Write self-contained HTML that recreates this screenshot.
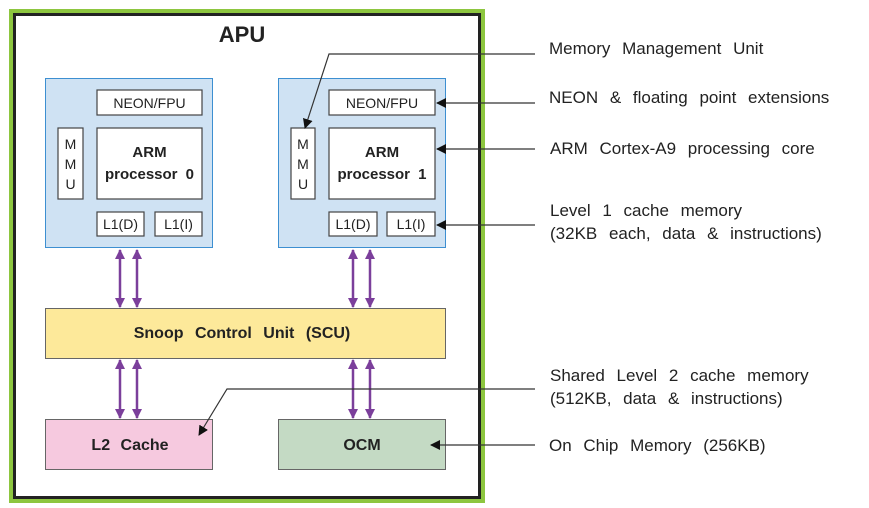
<!DOCTYPE html>
<html><head><style>
html,body{margin:0;padding:0;background:#fff;}
svg{display:block;font-family:"Liberation Sans",Arial,sans-serif;}
.t{font-size:17px;fill:#222;word-spacing:7px;}
.b{font-size:14px;fill:#222;}
</style></head><body>
<svg width="869" height="508" viewBox="0 0 869 508" xmlns="http://www.w3.org/2000/svg">
<defs>
<marker id="ah" markerWidth="10" markerHeight="10" refX="9" refY="5" orient="auto" markerUnits="userSpaceOnUse"><path d="M0,0 L10,5 L0,10 z" fill="#111"/></marker>
<marker id="pa" markerWidth="10" markerHeight="10" refX="9" refY="5" orient="auto-start-reverse" markerUnits="userSpaceOnUse"><path d="M0,0 L10,5 L0,10 z" fill="#7b3f9b"/></marker>
</defs>
<rect x="11" y="11" width="472" height="490" fill="#fff" stroke="#8dc63f" stroke-width="4"/>
<rect x="14.5" y="14.5" width="465" height="483" fill="none" stroke="#222" stroke-width="3"/>
<text x="242" y="42" font-size="22" font-weight="bold" text-anchor="middle" fill="#222">APU</text>

<g stroke="#3d8fd1" stroke-width="1" fill="#cfe2f3">
<rect x="45.5" y="78.5" width="167" height="169"/>
<rect x="278.5" y="78.5" width="167" height="169"/>
</g>
<g stroke="#444" stroke-width="1.2" fill="#fff">
<rect x="97" y="90" width="105" height="25"/><rect x="58" y="128" width="25" height="71"/><rect x="97" y="128" width="105" height="71"/>
<rect x="97" y="212" width="47" height="24"/><rect x="155" y="212" width="47" height="24"/>
<rect x="329" y="90" width="106" height="25"/><rect x="291" y="128" width="24" height="71"/><rect x="329" y="128" width="106" height="71"/>
<rect x="329" y="212" width="48" height="24"/><rect x="387" y="212" width="48" height="24"/>
</g>
<g class="b" text-anchor="middle">
<text x="149.5" y="108">NEON/FPU</text><text x="382" y="108">NEON/FPU</text>
<text x="70.5" y="149">M</text><text x="70.5" y="169">M</text><text x="70.5" y="189">U</text>
<text x="303" y="149">M</text><text x="303" y="169">M</text><text x="303" y="189">U</text>
<text x="149.5" y="157" font-weight="bold" font-size="15">ARM</text><text x="149.5" y="179" font-weight="bold" font-size="15" word-spacing="4">processor 0</text>
<text x="382" y="157" font-weight="bold" font-size="15">ARM</text><text x="382" y="179" font-weight="bold" font-size="15" word-spacing="4">processor 1</text>
<text x="120.5" y="229">L1(D)</text><text x="178.5" y="229">L1(I)</text>
<text x="353" y="229">L1(D)</text><text x="411" y="229">L1(I)</text>
</g>

<g stroke="#7b3f9b" stroke-width="2.5" marker-start="url(#pa)" marker-end="url(#pa)">
<line x1="120" y1="250" x2="120" y2="307"/><line x1="137" y1="250" x2="137" y2="307"/>
<line x1="353" y1="250" x2="353" y2="307"/><line x1="370" y1="250" x2="370" y2="307"/>
<line x1="120" y1="360" x2="120" y2="418"/><line x1="137" y1="360" x2="137" y2="418"/>
<line x1="353" y1="360" x2="353" y2="418"/><line x1="370" y1="360" x2="370" y2="418"/>
</g>

<rect x="45.5" y="308.5" width="400" height="50" fill="#fde99a" stroke="#666"/>
<text x="242" y="338" font-size="16" font-weight="bold" text-anchor="middle" fill="#222" word-spacing="7">Snoop Control Unit (SCU)</text>
<rect x="45.5" y="419.5" width="167" height="50" fill="#f6c9df" stroke="#666"/>
<text x="130" y="450" font-size="16" font-weight="bold" text-anchor="middle" fill="#222" word-spacing="6">L2 Cache</text>
<rect x="278.5" y="419.5" width="167" height="50" fill="#c4dac4" stroke="#666"/>
<text x="362" y="450" font-size="16" font-weight="bold" text-anchor="middle" fill="#222">OCM</text>

<g stroke="#333" stroke-width="1.2" fill="none" marker-end="url(#ah)">
<polyline points="535,54 329,54 305,128"/>
<line x1="535" y1="103" x2="437" y2="103"/>
<line x1="535" y1="149" x2="437" y2="149"/>
<line x1="535" y1="225" x2="437" y2="225"/>
<polyline points="535,389 227,389 199,435"/>
<line x1="535" y1="445" x2="431" y2="445"/>
</g>

<g class="t">
<text x="549" y="54">Memory Management Unit</text>
<text x="549" y="103">NEON &amp; floating point extensions</text>
<text x="550" y="154">ARM Cortex-A9 processing core</text>
<text x="550" y="216">Level 1 cache memory</text>
<text x="550" y="239">(32KB each, data &amp; instructions)</text>
<text x="550" y="381">Shared Level 2 cache memory</text>
<text x="550" y="404">(512KB, data &amp; instructions)</text>
<text x="549" y="451">On Chip Memory (256KB)</text>
</g>
</svg>
</body></html>
